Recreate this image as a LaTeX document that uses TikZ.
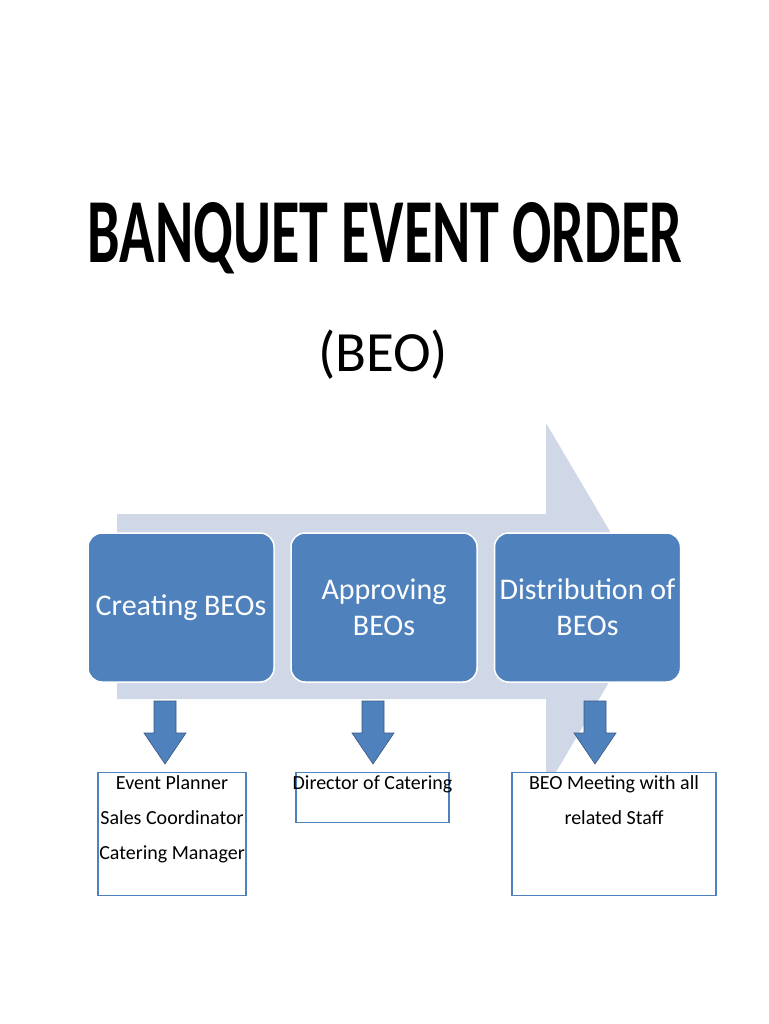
\documentclass[tikz,border=0pt]{standalone}
\usepackage{fontspec}
\setmainfont{Carlito}
\usepackage{graphicx}
\definecolor{bigarrow}{HTML}{D0D8E8}
\definecolor{accent}{HTML}{4F81BD}
\begin{document}
\begin{tikzpicture}[x=1pt,y=-1pt,
  stepbox/.style={draw=white,line width=1.5pt,fill=accent,rounded corners=14pt,text=white,
    minimum width=186pt,minimum height=149pt,align=center,font=\fontsize{30}{36}\selectfont,inner sep=0pt},
  notebox/.style={draw=accent,line width=1.2pt,fill=white,anchor=north,align=center,
    font=\fontsize{20}{34}\selectfont,inner sep=0pt,text depth=0pt},
  downarrow/.style={fill=accent,draw=accent!70!black,line width=0.6pt}]
\useasboundingbox (0,0) rectangle (768,1024);
\fill[white] (0,0) rectangle (768,1024);
\node (title) at (385,238) {\resizebox{594pt}{60pt}{\bfseries BANQUET EVENT ORDER}};
\node (beo) at (383,355) {\resizebox{130pt}{!}{\fontsize{60}{60}\selectfont (BEO)}};
\fill[bigarrow] (117,514) -- (546,514) -- (546,423) -- (654,606) -- (546,789) -- (546,699) -- (117,699) -- cycle;
\node[stepbox] (s1) at (181,607.5) {Creating BEOs};
\node[stepbox] (s2) at (384,607.5) {Approving\\BEOs};
\node[stepbox] (s3) at (587.5,607.5) {Distribution of\\BEOs};
\foreach \x/\n in {165/a1,373/a2,595/a3}{
  \draw[downarrow] (\x-11,701) -- (\x+11,701) -- (\x+11,733) -- (\x+21,733) -- (\x,764) -- (\x-21,733) -- (\x-11,733) -- cycle;
}
\node[notebox,minimum width=148pt,minimum height=123pt] (n1) at (172,772) {};
\node[anchor=north,align=center,font=\fontsize{20}{36}\selectfont] (t1) at (n1.north) {Event Planner\\[-1pt]Sales Coordinator\\[-1pt]Catering Manager};
\node[notebox,minimum width=153pt,minimum height=50pt] (n2) at (372.5,772) {};
\node[anchor=north,font=\fontsize{20}{24}\selectfont] (t2) at (n2.north) {Director of Catering};
\node[notebox,minimum width=204pt,minimum height=123pt] (n3) at (614,772) {};
\node[anchor=north,align=center,font=\fontsize{20}{36}\selectfont] (t3) at (n3.north) {BEO Meeting with all\\[-1pt]related Staff};
\end{tikzpicture}
\end{document}
